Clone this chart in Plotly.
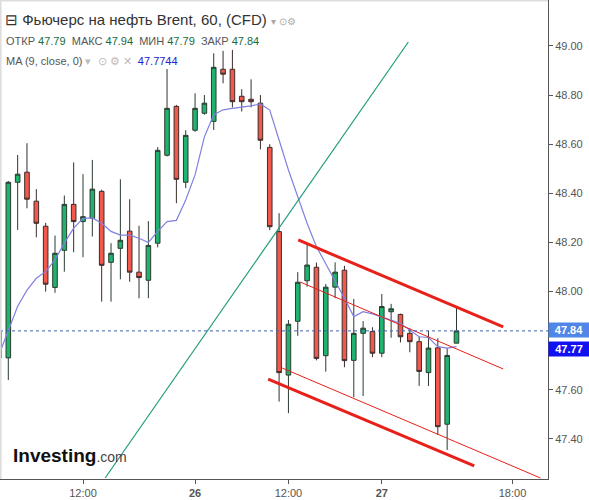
import plotly.graph_objects as go

idx = list(range(-1, 49))
opens = [47.84,47.73,48.445,48.486,48.368,48.266,48.017,48.168,48.355,48.285,48.298,48.408,48.119,48.176,48.246,48.079,48.046,48.197,48.555,48.754,48.445,48.657,48.726,48.693,48.905,48.905,48.795,48.783,48.767,48.587,48.244,47.66,47.879,48.044,48.099,47.739,48.018,48.087,47.72,47.83,47.837,47.749,47.918,47.907,47.83,47.796,47.67,47.771,47.46,47.79]
highs = [47.89,48.45,48.556,48.604,48.417,48.28,48.228,48.391,48.526,48.478,48.536,48.415,48.197,48.457,48.376,48.268,48.287,48.588,48.906,48.76,48.657,48.807,48.80,48.97,48.98,48.984,48.824,48.864,48.80,48.60,48.319,47.884,48.079,48.19,48.118,48.031,48.119,48.105,47.97,47.88,47.855,47.99,47.95,47.91,47.85,47.816,47.841,47.81,47.77,47.94]
lows = [47.64,47.64,48.251,48.339,48.221,48.0,47.995,48.081,48.16,48.14,48.224,47.959,47.959,48.05,48.04,47.973,47.973,48.18,48.55,48.36,48.421,48.65,48.72,48.658,48.848,48.75,48.733,48.75,48.579,48.25,47.552,47.505,47.82,48.02,47.72,47.674,47.973,47.692,47.57,47.575,47.733,47.733,47.812,47.793,47.753,47.616,47.616,47.416,47.355,47.79]
closes = [47.73,48.445,48.478,48.376,48.278,48.03,48.156,48.355,48.285,48.305,48.417,48.107,48.156,48.209,48.079,48.057,48.188,48.575,48.746,48.457,48.636,48.746,48.767,48.913,48.885,48.773,48.773,48.773,48.616,48.264,47.67,47.867,48.038,48.108,47.728,48.018,48.079,47.719,47.83,47.851,47.749,47.939,47.93,47.816,47.796,47.675,47.77,47.45,47.74,47.84]
ma = [47.742,47.844,47.94,48.006,48.054,48.081,48.129,48.197,48.258,48.298,48.30,48.278,48.245,48.23,48.23,48.217,48.2,48.245,48.285,48.29,48.373,48.475,48.63,48.72,48.74,48.746,48.75,48.756,48.764,48.739,48.617,48.495,48.386,48.278,48.183,48.115,48.047,47.973,47.898,47.918,47.909,47.898,47.884,47.87,47.844,47.816,47.813,47.776,47.77,47.776]

tick_idx = [8, 20, 30, 40, 54]
tick_text = ["12:00", "<b>26</b>", "12:00", "<b>27</b>", "18:00"]
y_ticks = [47.4, 47.6, 48.0, 48.2, 48.4, 48.6, 48.8, 49.0]

# drawings: (x0 idx, y0 price, x1 idx, y1 price)
green_line = (10.37, 47.241, 42.84, 49.016)
channel_thick = [(31.05, 48.21, 53.0, 47.856), (27.83, 47.644, 49.9, 47.29)]
channel_thin = [(31.26, 48.039, 53.0, 47.685), (29.33, 47.689, 57.0, 47.241)]
last_close = 47.84
ma_last = 47.77

fig = go.Figure()
fig.add_trace(go.Candlestick(
    x=idx, open=opens, high=highs, low=lows, close=closes,
    increasing=dict(line=dict(color="#2b3a2e", width=1), fillcolor="#1fb36f"),
    decreasing=dict(line=dict(color="#3a2b2b", width=1), fillcolor="#f2594b"),
    whiskerwidth=0, showlegend=False, hoverinfo="skip"))
fig.add_trace(go.Scatter(x=idx, y=ma, mode="lines", line=dict(color="#8080e0", width=1.2),
                         showlegend=False, hoverinfo="skip"))

shapes = []
x0, y0, x1, y1 = green_line
shapes.append(dict(type="line", x0=x0, y0=y0, x1=x1, y1=y1, line=dict(color="#1f9b7a", width=1.2)))
for (a, b, c, d) in channel_thick:
    shapes.append(dict(type="line", x0=a, y0=b, x1=c, y1=d, line=dict(color="#e8201a", width=3)))
for (a, b, c, d) in channel_thin:
    shapes.append(dict(type="line", x0=a, y0=b, x1=c, y1=d, line=dict(color="#e8201a", width=1)))
shapes.append(dict(type="line", xref="paper", x0=0, x1=1, y0=last_close, y1=last_close,
                   line=dict(color="#4060b0", width=1, dash="dot")))
shapes.append(dict(type="line", xref="paper", yref="paper", x0=0, x1=1, y0=1.0, y1=1.0,
                   line=dict(color="#ddd", width=3)))
shapes.append(dict(type="line", xref="paper", yref="paper", x0=0.001, x1=0.001, y0=0, y1=1,
                   line=dict(color="#ddd", width=2)))
fig.update_layout(shapes=shapes)

ann = []
def box(val, bg, ypos, shift):
    ann.append(dict(xref="paper", yref="y", x=1.0, y=ypos, text=f"<b>{val:.2f}</b>", showarrow=False,
                    xanchor="left", font=dict(color="white", size=11, family="Arial"),
                    bgcolor=bg, borderpad=0, width=40, height=14, yshift=shift))
box(last_close, "#4f86e8", last_close, 1)
box(ma_last, "#1010f0", ma_last, -1)

H = 479.0
def py(p): return 1 - p / H
ann.append(dict(xref="paper", yref="paper", x=0.005, y=py(19), xanchor="left", yanchor="middle", showarrow=False,
                text="⊟ Фьючерс на нефть Brent, 60, (CFD) <span style='color:#aaa;font-size:10px'>▾ ⊙⚙</span>",
                font=dict(size=15, color="#333", family="Arial")))
ann.append(dict(xref="paper", yref="paper", x=0.008, y=py(41), xanchor="left", yanchor="middle", showarrow=False,
                text="ОТКР <span style='color:#1a6b3a'>47.79</span>  МАКС <span style='color:#1a6b3a'>47.94</span>  МИН <span style='color:#1a6b3a'>47.79</span>  ЗАКР <span style='color:#1a6b3a'>47.84</span>",
                font=dict(size=11, color="#555", family="Arial")))
ann.append(dict(xref="paper", yref="paper", x=0.008, y=py(61), xanchor="left", yanchor="middle", showarrow=False,
                text="MA (9, close, 0) <span style='color:#bbb'>▾  ⊙ ⚙ ✕</span>  <span style='color:#2222cc'>47.7744</span>",
                font=dict(size=11, color="#555", family="Arial")))
ann.append(dict(xref="paper", yref="paper", x=0.02, y=py(455), xanchor="left", yanchor="middle", showarrow=False,
                text="<b>Investing</b><span style='font-size:14px;color:#444'>.com</span>",
                font=dict(size=19, color="#111", family="Arial")))
fig.update_layout(annotations=ann)

fig.update_layout(
    width=589, height=500, margin=dict(l=0, r=41, t=0, b=21),
    paper_bgcolor="white", plot_bgcolor="white",
    xaxis=dict(range=[-0.89, 57.8], rangeslider=dict(visible=False), showgrid=False, zeroline=False,
               tickvals=tick_idx, ticktext=tick_text, ticks="outside", ticklen=4, tickcolor="#555",
               showline=True, linecolor="#555", tickfont=dict(size=11, color="#555", family="Arial")),
    yaxis=dict(range=[47.237, 49.187], side="right", showgrid=False, zeroline=False,
               tickvals=y_ticks, tickformat=".2f", ticks="outside", ticklen=4, tickcolor="#555",
               showline=True, linecolor="#555", tickfont=dict(size=11, color="#555", family="Arial")),
)
fig.write_html("out.html", config={"displayModeBar": False})
with open("out.html", encoding="utf-8") as f:
    html = f.read()
html = html.replace("<body>", "<body style=\"margin:0;overflow:hidden\">", 1)
with open("out.html", "w", encoding="utf-8") as f:
    f.write(html)
